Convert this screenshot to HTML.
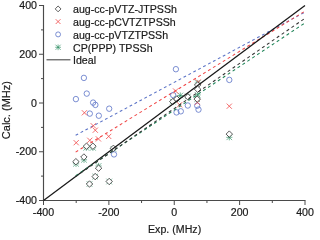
<!DOCTYPE html>
<html><head><meta charset="utf-8"><style>
html,body{margin:0;padding:0;background:#fff;width:314px;height:236px;overflow:hidden}
svg{display:block}
text{font-family:"Liberation Sans", sans-serif;fill:#1a1a1a;stroke:#1a1a1a;stroke-width:0.2px}
svg{will-change:transform}
</style></head><body>
<svg width="314" height="236" viewBox="0 0 314 236">
<path d="M43.5 5.0V200.5H305.5" fill="none" stroke="#4a4a4a" stroke-width="1.15"/>
<path d="M39.0 5.5H43.5" stroke="#4a4a4a" stroke-width="1"/>
<path d="M39.0 54.25H43.5" stroke="#4a4a4a" stroke-width="1"/>
<path d="M39.0 103H43.5" stroke="#4a4a4a" stroke-width="1"/>
<path d="M39.0 151.75H43.5" stroke="#4a4a4a" stroke-width="1"/>
<path d="M39.0 200.5H43.5" stroke="#4a4a4a" stroke-width="1"/>
<path d="M41.0 29.88H43.5" stroke="#4a4a4a" stroke-width="1"/>
<path d="M41.0 78.62H43.5" stroke="#4a4a4a" stroke-width="1"/>
<path d="M41.0 127.38H43.5" stroke="#4a4a4a" stroke-width="1"/>
<path d="M41.0 176.12H43.5" stroke="#4a4a4a" stroke-width="1"/>
<path d="M43.5 200.5V205.0" stroke="#4a4a4a" stroke-width="1"/>
<path d="M108.88 200.5V205.0" stroke="#4a4a4a" stroke-width="1"/>
<path d="M174.25 200.5V205.0" stroke="#4a4a4a" stroke-width="1"/>
<path d="M239.62 200.5V205.0" stroke="#4a4a4a" stroke-width="1"/>
<path d="M305 200.5V205.0" stroke="#4a4a4a" stroke-width="1"/>
<path d="M76.19 200.5V203.0" stroke="#4a4a4a" stroke-width="1"/>
<path d="M141.56 200.5V203.0" stroke="#4a4a4a" stroke-width="1"/>
<path d="M206.94 200.5V203.0" stroke="#4a4a4a" stroke-width="1"/>
<path d="M272.31 200.5V203.0" stroke="#4a4a4a" stroke-width="1"/>
<text transform="translate(37 9.1) scale(0.967 1)" text-anchor="end" font-size="11">400</text>
<text transform="translate(37 57.85) scale(0.967 1)" text-anchor="end" font-size="11">200</text>
<text transform="translate(37 106.6) scale(0.967 1)" text-anchor="end" font-size="11">0</text>
<text transform="translate(37 155.35) scale(0.967 1)" text-anchor="end" font-size="11">-200</text>
<text transform="translate(37 204.1) scale(0.967 1)" text-anchor="end" font-size="11">-400</text>
<text transform="translate(43.5 216) scale(0.967 1)" text-anchor="middle" font-size="11">-400</text>
<text transform="translate(108.88 216) scale(0.967 1)" text-anchor="middle" font-size="11">-200</text>
<text transform="translate(174.25 216) scale(0.967 1)" text-anchor="middle" font-size="11">0</text>
<text transform="translate(239.62 216) scale(0.967 1)" text-anchor="middle" font-size="11">200</text>
<text transform="translate(305 216) scale(0.967 1)" text-anchor="middle" font-size="11">400</text>
<text transform="translate(174.6 233) scale(0.967 1)" text-anchor="middle" font-size="11">Exp. (MHz)</text>
<text transform="translate(9.8 110.1) rotate(-90)" x="0" y="0" text-anchor="middle" font-size="11">Calc. (MHz)</text>
<path d="M58.1 6L61 8.9L58.1 11.8L55.2 8.9Z" fill="#fff" stroke="#333333" stroke-width="0.8"/>
<path d="M55.7 19.2L60.5 24M60.5 19.2L55.7 24" stroke="#f04848" stroke-width="0.8"/>
<ellipse cx="58.1" cy="34.4" rx="2.42" ry="2.5" fill="none" stroke="#5a72c6" stroke-width="0.8"/>
<path d="M55.5 44.7L60.7 49.9M60.7 44.7L55.5 49.9M58.1 44.44V50.16M55.24 47.3H60.96" stroke="#1f8458" stroke-width="0.6"/>
<path d="M46.5 59.8H70.5" stroke="#4a4a4a" stroke-width="1.1"/>
<text transform="translate(73 13.1) scale(0.967 1)" text-anchor="start" font-size="11">aug-cc-pVTZ-JTPSSh</text>
<text transform="translate(73 25.8) scale(0.967 1)" text-anchor="start" font-size="11">aug-cc-pCVTZTPSSh</text>
<text transform="translate(73 38.6) scale(0.967 1)" text-anchor="start" font-size="11">aug-cc-pVTZTPSSh</text>
<text transform="translate(73 51.5) scale(0.967 1)" text-anchor="start" font-size="11">CP(PPP) TPSSh</text>
<text transform="translate(73 64) scale(0.967 1)" text-anchor="start" font-size="11">Ideal</text>
<path d="M75.65 135.28L78.15 133.94M80.56 132.65L83.06 131.3M85.46 130.01L87.96 128.67M90.37 127.38L92.87 126.04M95.27 124.74L97.77 123.4M100.18 122.11L102.68 120.77M105.08 119.48L107.58 118.13M109.99 116.84L112.49 115.5M114.89 114.21L117.39 112.87M119.8 111.57L122.3 110.23M124.7 108.94L127.2 107.6M129.61 106.31L132.11 104.96M134.51 103.67L137.01 102.33M139.42 101.04L141.92 99.7M144.32 98.4L146.82 97.06M149.23 95.77L151.73 94.43M154.13 93.14L156.63 91.79M159.04 90.5L161.54 89.16M163.94 87.87L166.44 86.53M168.85 85.23L171.35 83.89M173.75 82.6L176.25 81.26M178.66 79.97L181.16 78.62M183.56 77.33L186.06 75.99M188.47 74.7L190.97 73.36M193.37 72.06L195.87 70.72M198.28 69.43L200.78 68.09M203.18 66.8L205.68 65.45M208.09 64.16L210.59 62.82M212.99 61.53L215.49 60.19M217.9 58.89L220.4 57.55M222.8 56.26L225.3 54.92M227.71 53.63L230.21 52.28M232.61 50.99L235.11 49.65M237.52 48.36L240.02 47.02M242.42 45.73L244.92 44.38M247.33 43.09L249.83 41.75M252.23 40.46L254.73 39.11M257.13 37.82L259.63 36.48M262.04 35.19L264.54 33.85M266.95 32.56L269.45 31.21M271.85 29.92L274.35 28.58M276.75 27.29L279.25 25.94M281.66 24.65L284.16 23.31M286.57 22.02L289.07 20.68M291.47 19.39L293.97 18.04M296.38 16.75L298.88 15.41M301.28 14.12L303.78 12.77" stroke="#5a72c6" stroke-width="1.05" fill="none"/>
<path d="M75.65 152.08L78.15 150.55M80.56 149.07L83.06 147.53M85.46 146.05L87.96 144.52M90.37 143.04L92.87 141.5M95.27 140.02L97.77 138.49M100.18 137.01L102.68 135.47M105.08 133.99L107.58 132.46M109.99 130.98L112.49 129.44M114.89 127.96L117.39 126.43M119.8 124.95L122.3 123.41M124.7 121.93L127.2 120.4M129.61 118.92L132.11 117.38M134.51 115.9L137.01 114.37M139.42 112.89L141.92 111.35M144.32 109.87L146.82 108.34M149.23 106.86L151.73 105.32M154.13 103.84L156.63 102.31M159.04 100.83L161.54 99.29M163.94 97.81L166.44 96.28M168.85 94.8L171.35 93.26M173.75 91.78L176.25 90.25M178.66 88.77L181.16 87.23M183.56 85.75L186.06 84.22M188.47 82.74L190.97 81.2M193.37 79.72L195.87 78.19M198.28 76.71L200.78 75.17M203.18 73.69L205.68 72.16M208.09 70.68L210.59 69.14M212.99 67.66L215.49 66.13M217.9 64.65L220.4 63.11M222.8 61.63L225.3 60.1M227.71 58.62L230.21 57.08M232.61 55.6L235.11 54.06M237.52 52.59L240.02 51.05M242.42 49.57L244.92 48.03M247.33 46.56L249.83 45.02M252.23 43.54L254.73 42M257.13 40.53L259.63 38.99M262.04 37.51L264.54 35.97M266.95 34.5L269.45 32.96M271.85 31.48L274.35 29.94M276.75 28.47L279.25 26.93M281.66 25.45L284.16 23.91M286.57 22.44L289.07 20.9M291.47 19.42L293.97 17.88M296.38 16.41L298.88 14.87M301.28 13.39L303.78 11.85" stroke="#f04848" stroke-width="1.05" fill="none"/>
<path d="M83.5 145L89.1 150.6M89.1 145L83.5 150.6M86.3 144.72V150.88M83.22 147.8H89.38" stroke="#1f8458" stroke-width="0.6"/>
<path d="M90.1 145L95.7 150.6M95.7 145L90.1 150.6M92.9 144.72V150.88M89.82 147.8H95.98" stroke="#1f8458" stroke-width="0.6"/>
<path d="M81.2 157L86.8 162.6M86.8 157L81.2 162.6M84 156.72V162.88M80.92 159.8H87.08" stroke="#1f8458" stroke-width="0.6"/>
<path d="M73.2 161L78.8 166.6M78.8 161L73.2 166.6M76 160.72V166.88M72.92 163.8H79.08" stroke="#1f8458" stroke-width="0.6"/>
<path d="M95.8 163.2L101.4 168.8M101.4 163.2L95.8 168.8M98.6 162.92V169.08M95.52 166H101.68" stroke="#1f8458" stroke-width="0.6"/>
<path d="M92.4 173.8L98 179.4M98 173.8L92.4 179.4M95.2 173.52V179.68M92.12 176.6H98.28" stroke="#1f8458" stroke-width="0.6"/>
<path d="M86.7 181.2L92.3 186.8M92.3 181.2L86.7 186.8M89.5 180.92V187.08M86.42 184H92.58" stroke="#1f8458" stroke-width="0.6"/>
<path d="M110.6 146L116.2 151.6M116.2 146L110.6 151.6M113.4 145.72V151.88M110.32 148.8H116.48" stroke="#1f8458" stroke-width="0.6"/>
<path d="M226.5 134.5L232.1 140.1M232.1 134.5L226.5 140.1M229.3 134.22V140.38M226.22 137.3H232.38" stroke="#1f8458" stroke-width="0.6"/>
<path d="M106.4 178.7L112 184.3M112 178.7L106.4 184.3M109.2 178.42V184.58M106.12 181.5H112.28" stroke="#1f8458" stroke-width="0.6"/>
<path d="M185.1 93.7L190.7 99.3M190.7 93.7L185.1 99.3M187.9 93.42V99.58M184.82 96.5H190.98" stroke="#1f8458" stroke-width="0.6"/>
<path d="M194.8 92.1L200.4 97.7M200.4 92.1L194.8 97.7M197.6 91.82V97.98M194.52 94.9H200.68" stroke="#1f8458" stroke-width="0.6"/>
<path d="M194.4 96.3L200 101.9M200 96.3L194.4 101.9M197.2 96.02V102.18M194.12 99.1H200.28" stroke="#1f8458" stroke-width="0.6"/>
<path d="M177.5 92.7L183.1 98.3M183.1 92.7L177.5 98.3M180.3 92.42V98.58M177.22 95.5H183.38" stroke="#1f8458" stroke-width="0.6"/>
<path d="M170 98.8L175.6 104.4M175.6 98.8L170 104.4M172.8 98.52V104.68M169.72 101.6H175.88" stroke="#1f8458" stroke-width="0.6"/>
<path d="M174 96.2L179.6 101.8M179.6 96.2L174 101.8M176.8 95.92V102.08M173.72 99H179.88" stroke="#1f8458" stroke-width="0.6"/>
<path d="M195 80.2L200.6 85.8M200.6 80.2L195 85.8M197.8 79.92V86.08M194.72 83H200.88" stroke="#1f8458" stroke-width="0.6"/>
<ellipse cx="75.9" cy="99.1" rx="2.67" ry="2.75" fill="none" stroke="#5a72c6" stroke-width="0.8"/>
<ellipse cx="86.75" cy="93.6" rx="2.67" ry="2.75" fill="none" stroke="#5a72c6" stroke-width="0.8"/>
<ellipse cx="93.1" cy="102.6" rx="2.67" ry="2.75" fill="none" stroke="#5a72c6" stroke-width="0.8"/>
<ellipse cx="95.4" cy="104.9" rx="2.67" ry="2.75" fill="none" stroke="#5a72c6" stroke-width="0.8"/>
<ellipse cx="89.8" cy="113.6" rx="2.67" ry="2.75" fill="none" stroke="#5a72c6" stroke-width="0.8"/>
<ellipse cx="98.8" cy="115.7" rx="2.67" ry="2.75" fill="none" stroke="#5a72c6" stroke-width="0.8"/>
<ellipse cx="109.2" cy="108.7" rx="2.67" ry="2.75" fill="none" stroke="#5a72c6" stroke-width="0.8"/>
<ellipse cx="83.9" cy="77.9" rx="2.67" ry="2.75" fill="none" stroke="#5a72c6" stroke-width="0.8"/>
<ellipse cx="114" cy="154.4" rx="2.67" ry="2.75" fill="none" stroke="#5a72c6" stroke-width="0.8"/>
<ellipse cx="229.3" cy="79.9" rx="2.67" ry="2.75" fill="none" stroke="#5a72c6" stroke-width="0.8"/>
<ellipse cx="175.9" cy="69.2" rx="2.67" ry="2.75" fill="none" stroke="#5a72c6" stroke-width="0.8"/>
<ellipse cx="173.2" cy="95.1" rx="2.67" ry="2.75" fill="none" stroke="#5a72c6" stroke-width="0.8"/>
<ellipse cx="176.5" cy="112.4" rx="2.67" ry="2.75" fill="none" stroke="#5a72c6" stroke-width="0.8"/>
<ellipse cx="180.8" cy="111.3" rx="2.67" ry="2.75" fill="none" stroke="#5a72c6" stroke-width="0.8"/>
<ellipse cx="187.8" cy="105.5" rx="2.67" ry="2.75" fill="none" stroke="#5a72c6" stroke-width="0.8"/>
<ellipse cx="197.2" cy="105.7" rx="2.67" ry="2.75" fill="none" stroke="#5a72c6" stroke-width="0.8"/>
<ellipse cx="198.5" cy="109.6" rx="2.67" ry="2.75" fill="none" stroke="#5a72c6" stroke-width="0.8"/>
<path d="M90.7 123.2L95.9 128.4M95.9 123.2L90.7 128.4" stroke="#f04848" stroke-width="0.8"/>
<path d="M92.7 127.6L97.9 132.8M97.9 127.6L92.7 132.8" stroke="#f04848" stroke-width="0.8"/>
<path d="M73.6 140.1L78.8 145.3M78.8 140.1L73.6 145.3" stroke="#f04848" stroke-width="0.8"/>
<path d="M87.2 137.7L92.4 142.9M92.4 137.7L87.2 142.9" stroke="#f04848" stroke-width="0.8"/>
<path d="M95.8 136.3L101 141.5M101 136.3L95.8 141.5" stroke="#f04848" stroke-width="0.8"/>
<path d="M106.1 133.8L111.3 139M111.3 133.8L106.1 139" stroke="#f04848" stroke-width="0.8"/>
<path d="M81.8 110.2L87 115.4M87 110.2L81.8 115.4" stroke="#f04848" stroke-width="0.8"/>
<path d="M226.7 103.6L231.9 108.8M231.9 103.6L226.7 108.8" stroke="#f04848" stroke-width="0.8"/>
<path d="M173 88.4L178.2 93.6M178.2 88.4L173 93.6" stroke="#f04848" stroke-width="0.8"/>
<path d="M177 102.2L182.2 107.4M182.2 102.2L177 107.4" stroke="#f04848" stroke-width="0.8"/>
<path d="M195.6 79.4L200.8 84.6M200.8 79.4L195.6 84.6" stroke="#f04848" stroke-width="0.8"/>
<path d="M194.8 99.7L200 104.9M200 99.7L194.8 104.9" stroke="#f04848" stroke-width="0.8"/>
<path d="M86.5 143L89.7 146.2L86.5 149.4L83.3 146.2Z" fill="#fff" stroke="#333333" stroke-width="0.8"/>
<path d="M92.9 143L96.1 146.2L92.9 149.4L89.7 146.2Z" fill="#fff" stroke="#333333" stroke-width="0.8"/>
<path d="M83.9 153.8L87.1 157L83.9 160.2L80.7 157Z" fill="#fff" stroke="#333333" stroke-width="0.8"/>
<path d="M75.9 158.5L79.1 161.7L75.9 164.9L72.7 161.7Z" fill="#fff" stroke="#333333" stroke-width="0.8"/>
<path d="M98.6 165L101.8 168.2L98.6 171.4L95.4 168.2Z" fill="#fff" stroke="#333333" stroke-width="0.8"/>
<path d="M95.2 173.4L98.4 176.6L95.2 179.8L92 176.6Z" fill="#fff" stroke="#333333" stroke-width="0.8"/>
<path d="M89.5 180.8L92.7 184L89.5 187.2L86.3 184Z" fill="#fff" stroke="#333333" stroke-width="0.8"/>
<path d="M113.4 145.1L116.6 148.3L113.4 151.5L110.2 148.3Z" fill="#fff" stroke="#333333" stroke-width="0.8"/>
<path d="M229.3 130.9L232.5 134.1L229.3 137.3L226.1 134.1Z" fill="#fff" stroke="#333333" stroke-width="0.8"/>
<path d="M109.2 178.3L112.4 181.5L109.2 184.7L106 181.5Z" fill="#fff" stroke="#333333" stroke-width="0.8"/>
<path d="M187.9 93.7L191.1 96.9L187.9 100.1L184.7 96.9Z" fill="#fff" stroke="#333333" stroke-width="0.8"/>
<path d="M197.6 81.8L200.8 85L197.6 88.2L194.4 85Z" fill="#fff" stroke="#333333" stroke-width="0.8"/>
<path d="M197.6 86L200.8 89.2L197.6 92.4L194.4 89.2Z" fill="#fff" stroke="#333333" stroke-width="0.8"/>
<path d="M197.2 95.9L200.4 99.1L197.2 102.3L194 99.1Z" fill="#fff" stroke="#333333" stroke-width="0.8"/>
<path d="M172.8 98.4L176 101.6L172.8 104.8L169.6 101.6Z" fill="#fff" stroke="#333333" stroke-width="0.8"/>
<path d="M176.8 95.8L180 99L176.8 102.2L173.6 99Z" fill="#fff" stroke="#333333" stroke-width="0.8"/>
<path d="M43.5 200.5L305.0 5.5" stroke="#1a1a1a" stroke-width="1.3"/>
<path d="M75.65 175.73L78.15 174.07M80.56 172.47L83.06 170.8M85.46 169.2L87.96 167.53M90.37 165.93L92.87 164.26M95.27 162.66L97.77 160.99M100.18 159.39L102.68 157.73M105.08 156.12L107.58 154.46M109.99 152.86L112.49 151.19M114.89 149.59L117.39 147.92M119.8 146.32L122.3 144.65M124.7 143.05L127.2 141.39M129.61 139.78L132.11 138.12M134.51 136.51L137.01 134.85M139.42 133.25L141.92 131.58M144.32 129.98L146.82 128.31M149.23 126.71L151.73 125.04M154.13 123.44L156.63 121.78M159.04 120.17L161.54 118.51M163.94 116.91L166.44 115.24M168.85 113.64L171.35 111.97M173.75 110.37L176.25 108.7M178.66 107.1L181.16 105.44M183.56 103.83L186.06 102.17M188.47 100.56L190.97 98.9M193.37 97.3L195.87 95.63M198.28 94.03L200.78 92.36M203.18 90.76L205.68 89.09M208.09 87.49L210.59 85.83M212.99 84.22L215.49 82.56M217.9 80.96L220.4 79.29M222.8 77.69L225.3 76.02M227.71 74.42L230.21 72.75M232.61 71.15L235.11 69.49M237.52 67.88L240.02 66.22M242.42 64.61L244.92 62.95M247.33 61.35L249.83 59.68M252.23 58.08L254.73 56.41M257.13 54.81L259.63 53.14M262.04 51.54L264.54 49.88M266.95 48.27L269.45 46.61M271.85 45.01L274.35 43.34M276.75 41.74L279.25 40.07M281.66 38.47L284.16 36.8M286.57 35.2L289.07 33.53M291.47 31.93L293.97 30.27M296.38 28.66L298.88 27M301.28 25.4L303.78 23.73" stroke="#1f8458" stroke-width="1.05" fill="none"/>
<path d="M75.65 176.54L78.15 174.82M80.56 173.16L83.06 171.43M85.46 169.77L87.96 168.05M90.37 166.39L92.87 164.66M95.27 163L97.77 161.28M100.18 159.62L102.68 157.89M105.08 156.23L107.58 154.51M109.99 152.85L112.49 151.13M114.89 149.47L117.39 147.74M119.8 146.08L122.3 144.36M124.7 142.7L127.2 140.97M129.61 139.31L132.11 137.59M134.51 135.93L137.01 134.2M139.42 132.54L141.92 130.82M144.32 129.16L146.82 127.43M149.23 125.77L151.73 124.05M154.13 122.39L156.63 120.67M159.04 119.01L161.54 117.28M163.94 115.62L166.44 113.9M168.85 112.24L171.35 110.51M173.75 108.85L176.25 107.13M178.66 105.47L181.16 103.74M183.56 102.08L186.06 100.36M188.47 98.7L190.97 96.97M193.37 95.31L195.87 93.59M198.28 91.93L200.78 90.21M203.18 88.55L205.68 86.82M208.09 85.16L210.59 83.44M212.99 81.78L215.49 80.05M217.9 78.39L220.4 76.67M222.8 75.01L225.3 73.28M227.71 71.62L230.21 69.9M232.61 68.24L235.11 66.51M237.52 64.85L240.02 63.13M242.42 61.47L244.92 59.75M247.33 58.09L249.83 56.36M252.23 54.7L254.73 52.98M257.13 51.32L259.63 49.59M262.04 47.93L264.54 46.21M266.95 44.55L269.45 42.82M271.85 41.16L274.35 39.44M276.75 37.78L279.25 36.05M281.66 34.39L284.16 32.67M286.57 31.01L289.07 29.29M291.47 27.63L293.97 25.9M296.38 24.24L298.88 22.52M301.28 20.86L303.78 19.13" stroke="#333333" stroke-width="1.05" fill="none"/>
</svg>
</body></html>
